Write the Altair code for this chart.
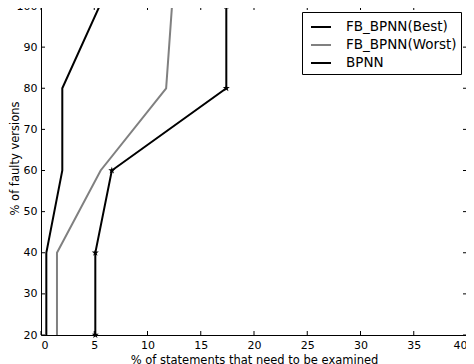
import altair as alt
import pandas as pd

faulty = [20, 40, 60, 80, 100]
best = [0.5, 0.5, 2.0, 2.0, 5.5]
worst = [1.5, 1.5, 5.6, 11.75, 12.3]
bpnn = [5.1, 5.1, 6.65, 17.4, 17.4]

series_names = ["FB_BPNN(Best)", "FB_BPNN(Worst)", "BPNN"]
series_colors = ["#000000", "#808080", "#000000"]

x_ticks = [0, 5, 10, 15, 20, 25, 30, 35, 40]
y_ticks = [20, 30, 40, 50, 60, 70, 80, 90, 100]

rows = []
for name, vals in zip(series_names, [best, worst, bpnn]):
    for i, (xv, yv) in enumerate(zip(vals, faulty)):
        rows.append({"series": name, "pct": xv, "faulty": yv, "ord": i})
df = pd.DataFrame(rows)

W, H = 426, 329
TL = 4  # tick length

xs = alt.Scale(domain=[0, 40], nice=False, zero=False)
ys = alt.Scale(domain=[20, 100], nice=False, zero=False)

star = ("M0,-1L0.2245,-0.309L0.951,-0.309L0.363,0.118L0.588,0.809L0,0.382"
        "L-0.588,0.809L-0.363,0.118L-0.951,-0.309L-0.2245,-0.309Z")

base = alt.Chart(df)

lines = base.mark_line(strokeWidth=2).encode(
    x=alt.X("pct:Q", scale=xs,
            axis=alt.Axis(values=x_ticks, title="% of statements that need to be examined",
                          labelPadding=4, titlePadding=4)),
    y=alt.Y("faulty:Q", scale=ys,
            axis=alt.Axis(values=y_ticks, title="% of faulty versions",
                          labelPadding=4, titleX=-23, titleY=152,
                          titleBaseline="alphabetic", titleAngle=-90, titleAlign="center")),
    color=alt.Color("series:N",
                    scale=alt.Scale(domain=series_names, range=series_colors),
                    legend=alt.Legend(title=None, orient="top-right", offset=6,
                                      symbolType="stroke", symbolSize=400,
                                      symbolStrokeWidth=2, labelFontSize=13.5,
                                      labelFont="DejaVu Sans", labelColor="black",
                                      strokeColor="black", fillColor="white",
                                      padding=4, rowPadding=0, symbolOffset=4,
                                      labelOffset=14)),
    detail="series:N",
    order="ord:Q",
)

pts = alt.Chart(df[df["series"] == "BPNN"]).mark_point(
    shape=star, filled=True, color="black", size=55, opacity=1
).encode(x=alt.X("pct:Q", scale=xs), y=alt.Y("faulty:Q", scale=ys))

xt = pd.DataFrame({"v": x_ticks})
yt = pd.DataFrame({"v": y_ticks})

tb = alt.Chart(xt).mark_rule(color="black", strokeWidth=1).encode(
    x=alt.X("v:Q", scale=xs), y=alt.value(H), y2=alt.value(H - TL))
tt = alt.Chart(xt).mark_rule(color="black", strokeWidth=1).encode(
    x=alt.X("v:Q", scale=xs), y=alt.value(0), y2=alt.value(TL))
tlft = alt.Chart(yt).mark_rule(color="black", strokeWidth=1).encode(
    y=alt.Y("v:Q", scale=ys), x=alt.value(0), x2=alt.value(TL))
trt = alt.Chart(yt).mark_rule(color="black", strokeWidth=1).encode(
    y=alt.Y("v:Q", scale=ys), x=alt.value(W), x2=alt.value(W - TL))

chart = alt.layer(lines, pts, tb, tt, tlft, trt).properties(
    width=W, height=H,
    autosize=alt.AutoSizeParams(type="none"),
    padding={"left": 33, "top": -2, "right": -1, "bottom": 29},
).configure_view(
    stroke="black", strokeWidth=1
).configure_axis(
    labelFont="DejaVu Sans", labelFontSize=11, labelColor="black",
    titleFont="DejaVu Sans", titleFontSize=11.5, titleFontWeight="normal",
    titleColor="black", domain=False, ticks=False, tickSize=0, grid=False,
)

chart.save("out.html", embed_options={"renderer": "svg", "actions": False})
